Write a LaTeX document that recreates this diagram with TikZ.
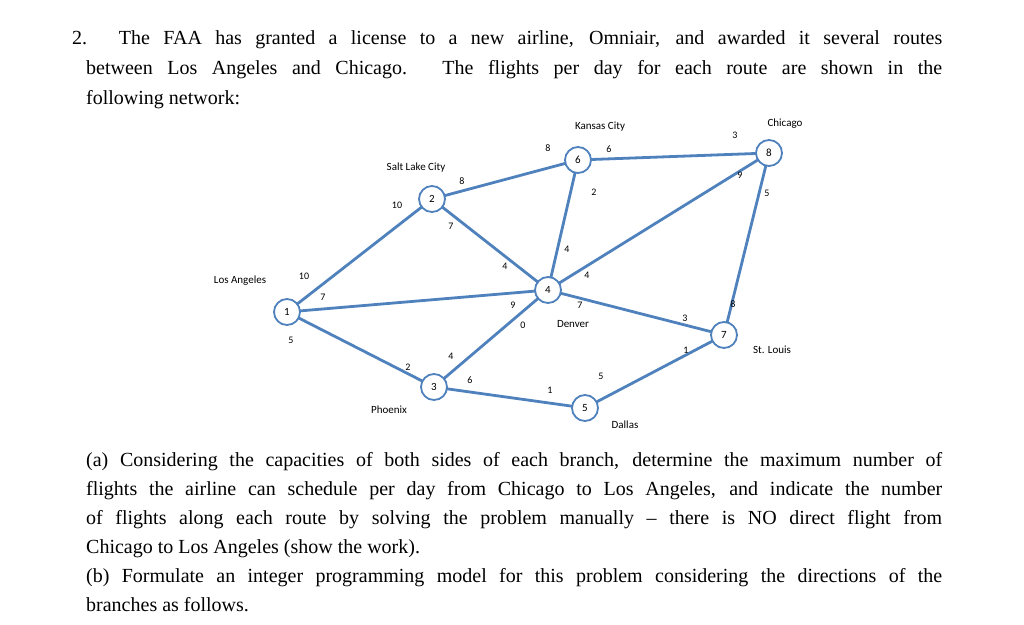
\documentclass[tikz,border=0pt]{standalone}
\usepackage{fontspec}
\setmainfont{Liberation Serif}
\newfontfamily\calfont{Carlito}
\definecolor{eblue}{RGB}{79,129,189}
\begin{document}
\begin{tikzpicture}[x=1pt,y=-1pt,
  vtx/.style={circle,draw=eblue,line width=1.8pt,fill=white,minimum size=26pt,inner sep=0pt,font=\calfont\fontsize{11}{11}\selectfont},
  edge/.style={draw=eblue,line width=2.8pt},
  lab/.style={font=\calfont\fontsize{10}{10}\selectfont,inner sep=0pt},
  city/.style={font=\calfont\fontsize{11}{11}\selectfont,inner sep=0pt},
  txt/.style={anchor=base west,inner sep=0pt,font=\fontsize{20}{24}\selectfont}]
\useasboundingbox (0,0) rectangle (1024,624);
\coordinate (n1) at (287,312);
\coordinate (n2) at (432,199);
\coordinate (n6) at (578,160);
\coordinate (n8) at (769,153);
\coordinate (n4) at (548,290);
\coordinate (n3) at (434,387);
\coordinate (n5) at (585,408);
\coordinate (n7) at (724,335);
\foreach \a/\b in {n1/n2,n1/n4,n1/n3,n2/n6,n2/n4,n6/n8,n6/n4,n4/n8,n4/n3,n4/n7,n3/n5,n5/n7,n8/n7}
  \draw[edge] (\a) -- (\b);
\node[vtx] (v1) at (n1) {1};\node[vtx] (v2) at (n2) {2};\node[vtx] (v6) at (n6) {6};\node[vtx] (v8) at (n8) {8};
\node[vtx] (v4) at (n4) {4};\node[vtx] (v3) at (n3) {3};\node[vtx] (v5) at (n5) {5};\node[vtx] (v7) at (n7) {7};
\foreach \x/\y/\t [count=\i] in {304/276/10,397/205/10,323/297/7,513/305/9,291/340/5,408/367/2,
 462/181/8,548/148/8,451/226/7,505/266/4,609/149/6,735/135/3,594/192/2,567/249/4,587/275/4,
 740/175/9,523/325/0,451/356/4,580/305/7,685/318/3,470/380/6,550/390/1,601/376/5,686/350/1,
 767/193/5,733/304/8}
  \node[lab] (l\i) at (\x,\y) {\t};
\node[city] (c1) at (600,127) {Kansas City};
\node[city] (c2) at (785,124) {Chicago};
\node[city] (c3) at (416,168) {Salt Lake City};
\node[city] (c4) at (240,281) {Los Angeles};
\node[city] (c5) at (573,324) {Denver};
\node[city] (c6) at (772,350) {St. Louis};
\node[city] (c7) at (389,410) {Phoenix};
\node[city] (c8) at (625,425) {Dallas};
\node[txt] (t1) at (72,44) {\makebox[870pt][s]{2. The FAA has granted a license to a new airline, Omniair, and awarded it several routes}};
\node[txt] (t2) at (86,74) {\makebox[856pt][s]{between Los Angeles and Chicago. The flights per day for each route are shown in the}};
\node[txt] (t3) at (86,104) {following network:};
\node[txt] (t4) at (86,466) {\makebox[856pt][s]{(a) Considering the capacities of both sides of each branch, determine the maximum number of}};
\node[txt] (t5) at (86,495) {\makebox[856pt][s]{flights the airline can schedule per day from Chicago to Los Angeles, and indicate the number}};
\node[txt] (t6) at (86,524) {\makebox[856pt][s]{of flights along each route by solving the problem manually -- there is NO direct flight from}};
\node[txt] (t7) at (86,553) {Chicago to Los Angeles (show the work).};
\node[txt] (t8) at (86,582) {\makebox[856pt][s]{(b) Formulate an integer programming model for this problem considering the directions of the}};
\node[txt] (t9) at (86,611) {branches as follows.};
\end{tikzpicture}
\end{document}
